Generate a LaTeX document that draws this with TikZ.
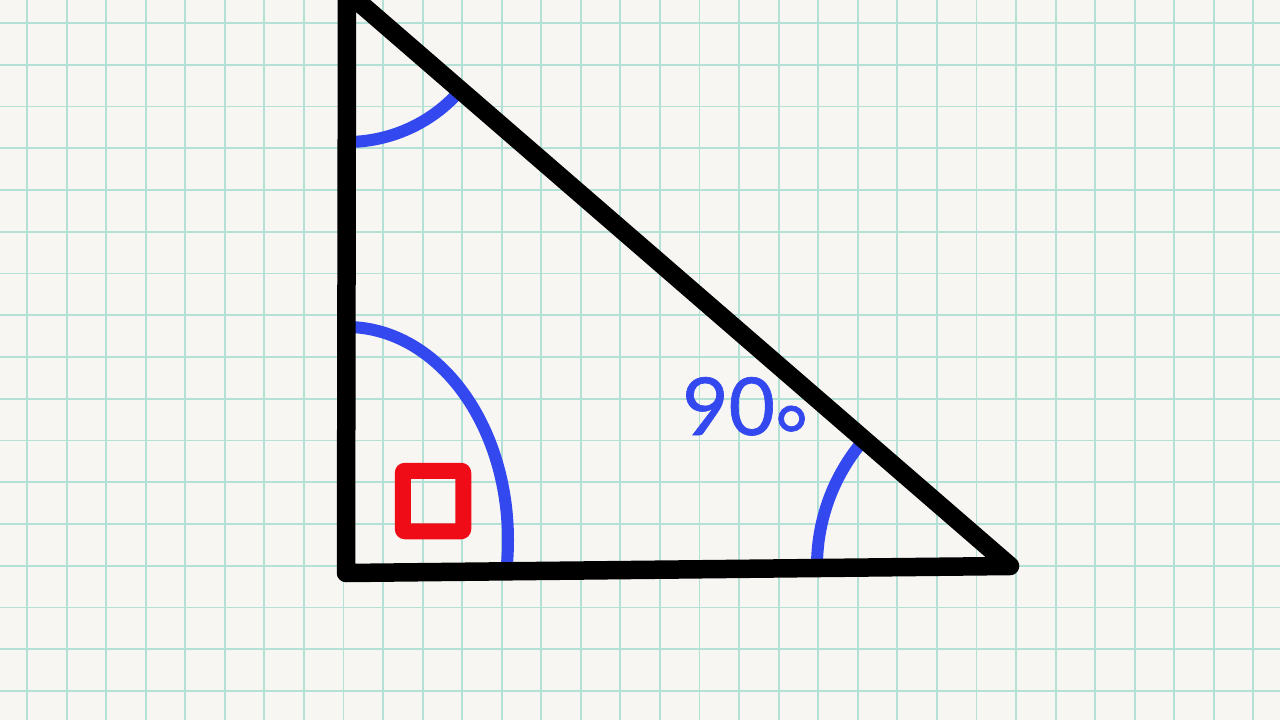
\documentclass[tikz,border=0pt]{standalone}
\usepackage{fontspec}
\newfontfamily\labelfont[FakeBold=0.8]{Lato}
\usetikzlibrary{calc}
\definecolor{paper}{RGB}{248,246,243}
\definecolor{gridc}{RGB}{180,224,213}
\definecolor{arcblue}{RGB}{52,72,240}
\definecolor{sqred}{RGB}{240,12,22}
\tikzset{
  gridline/.style={draw=gridc, line width=1.9},
  bluearc/.style={draw=arcblue, line width=12},
  edge/.style={draw=black, line width=18.5, line cap=round, line join=round},
  rightmark/.style={draw=sqred, line width=16, minimum size=60.5, inner sep=0pt, rounded corners=2, line join=round},
  anglelabel/.style={text=arcblue, font=\labelfont\fontsize{80}{96}\selectfont, inner sep=0pt}
}
\begin{document}
\begin{tikzpicture}[x=1pt,y=-1pt]
\useasboundingbox (0,0) rectangle (1280,720);
\clip (0,0) rectangle (1280,720);
\fill[paper] (0,0) rectangle (1280,720);
% grid
\foreach \k in {0,...,31} {
  \draw[gridline] ({27+39.56*\k},0) -- ({27+39.56*\k},720);
}
\foreach \k in {0,...,16} {
  \draw[gridline] (0,{23+41.75*\k}) -- (1280,{23+41.75*\k});
}
% vertices
\coordinate (A) at (347,-8);
\coordinate (B) at (346,573);
\coordinate (C) at (1010,566);
\coordinate (E) at (347,540);
% angle arcs
\draw[bluearc] ($(A)+(38:150)$) arc[start angle=38, end angle=93, radius=150];
\draw[bluearc] ($(E)+(-92:161 and 213)$) arc[start angle=-92, end angle=9, x radius=161, y radius=213];
\draw[bluearc] ($(C)+(177:193)$) arc[start angle=177, end angle=223, radius=193];
% right angle mark
\node[rightmark] (sq) at (433,501) {};
% label
\node[anglelabel, anchor=base west] (lbl) at (682,435) {90\raisebox{-0.36em}{°}};
% triangle
\draw[edge] (A) -- (B) -- (C) -- cycle;
\end{tikzpicture}
\end{document}
